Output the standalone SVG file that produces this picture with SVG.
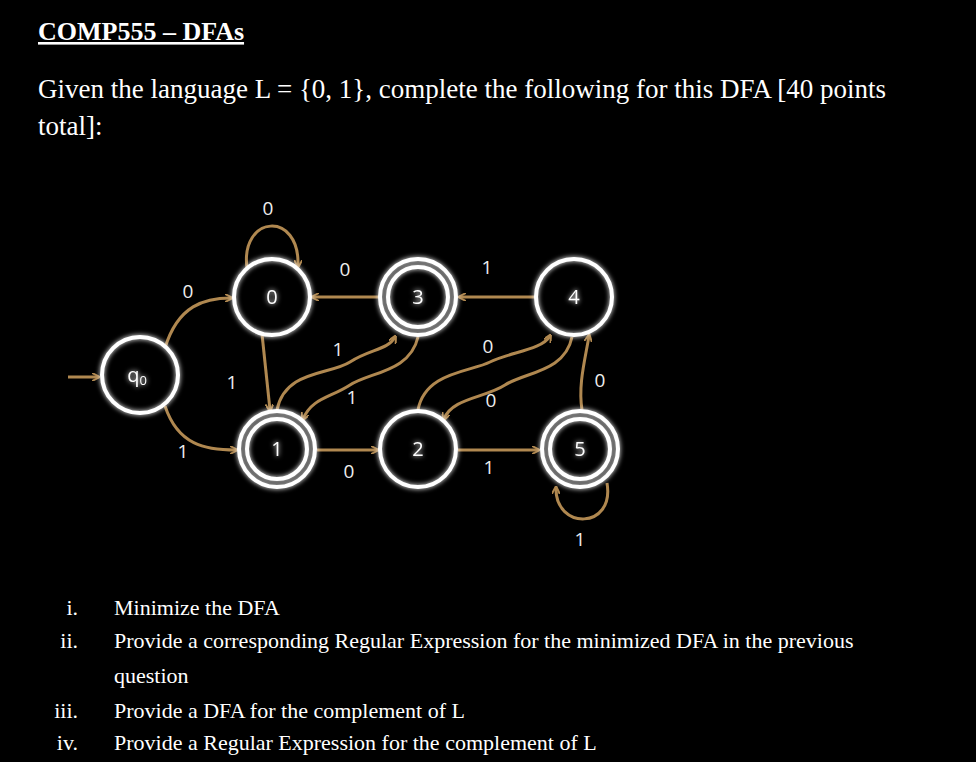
<svg xmlns="http://www.w3.org/2000/svg" width="976" height="762" viewBox="0 0 976 762">
<style>
.t{font-family:"Liberation Serif",serif;fill:#fff}
.n{fill:none;stroke:#fff;stroke-width:4}
.nl{font-family:"Open Sans","DejaVu Sans",sans-serif;font-size:20px;fill:#fff;text-anchor:middle}
.e{fill:none;stroke:#b08850;stroke-width:3;marker-end:url(#a)}
.el{font-family:"Open Sans","DejaVu Sans",sans-serif;font-size:19px;fill:#eee;text-anchor:middle}
</style>
<defs>
<marker id="a" markerWidth="8" markerHeight="8" refX="6" refY="4" orient="auto" markerUnits="userSpaceOnUse"><path d="M0,0 L8,4 L0,8" fill="none" stroke="#b08850" stroke-width="2"/></marker>
<filter id="g" x="-30%" y="-30%" width="160%" height="160%"><feGaussianBlur stdDeviation="2.5" result="b"/><feMerge><feMergeNode in="b"/><feMergeNode in="SourceGraphic"/></feMerge></filter>
</defs>
<rect width="976" height="762" fill="#000"/>
<text class="t" x="38" y="40" font-size="26" font-weight="bold" text-decoration="underline">COMP555 – DFAs</text>
<text class="t" x="38" y="98" font-size="27">Given the language L = {0, 1}, complete the following for this DFA [40 points</text>
<text class="t" x="38" y="135" font-size="27">total]:</text>
<g id="connectors">
<path class="e" d="M68,377 L98,377"/>
<path class="e" d="M165,348 C178,305 205,298 231,298"/>
<path class="e" d="M165,406 C178,445 205,450 236,450"/>
<path class="e" d="M247,268 C240,215 300,210 298,266"/>
<path class="e" d="M380,297 L313,297"/>
<path class="e" d="M535,297 L460,297"/>
<path class="e" d="M262,334 L270,410"/>
<path class="e" d="M277,410 C285,370 330,375 350,362 S388,350 395,337"/>
<path class="e" d="M418,337 C410,372 370,372 350,385 S312,398 303,419"/>
<path class="e" d="M418,410 C425,372 470,372 490,362 S542,350 550,336"/>
<path class="e" d="M572,337 C565,372 525,372 505,385 S452,398 444,419"/>
<path class="e" d="M317,450 L377,450"/>
<path class="e" d="M458,450 L538,450"/>
<path class="e" d="M582,410 C578,385 585,360 589,336"/>
<path class="e" d="M607,483 C615,530 555,530 556,488"/>
<text class="el" x="188" y="298">0</text>
<text class="el" x="183" y="458">1</text>
<text class="el" x="268" y="215">0</text>
<text class="el" x="345" y="276">0</text>
<text class="el" x="487" y="274">1</text>
<text class="el" x="232" y="389">1</text>
<text class="el" x="338" y="356">1</text>
<text class="el" x="352" y="404">1</text>
<text class="el" x="488" y="353">0</text>
<text class="el" x="491" y="407">0</text>
<text class="el" x="349" y="478">0</text>
<text class="el" x="489" y="474">1</text>
<text class="el" x="600" y="387">0</text>
<text class="el" x="580" y="546">1</text>
</g>
<g filter="url(#g)">
<g id="q0"><circle class="n" cx="140" cy="375" r="38"/><text class="nl" x="137" y="382">q<tspan font-size="13" dy="3">0</tspan></text></g>
<g id="s0"><circle class="n" cx="272" cy="297" r="38"/><text class="nl" x="272" y="304">0</text></g>
<g id="s3"><circle class="n" cx="418" cy="297" r="38"/><circle class="n" cx="418" cy="297" r="30" stroke-width="3"/><text class="nl" x="418" y="304">3</text></g>
<g id="s4"><circle class="n" cx="574" cy="297" r="38"/><text class="nl" x="574" y="304">4</text></g>
<g id="s1"><circle class="n" cx="277" cy="449" r="38"/><circle class="n" cx="277" cy="449" r="30" stroke-width="3"/><text class="nl" x="277" y="456">1</text></g>
<g id="s2"><circle class="n" cx="418" cy="449" r="38"/><text class="nl" x="418" y="456">2</text></g>
<g id="s5"><circle class="n" cx="580" cy="449" r="38"/><circle class="n" cx="580" cy="449" r="30" stroke-width="3"/><text class="nl" x="580" y="456">5</text></g>
</g>
<g font-size="22">
<text class="t" x="78" y="615" text-anchor="end">i.</text>
<text class="t" x="78" y="648" text-anchor="end">ii.</text>
<text class="t" x="78" y="718" text-anchor="end">iii.</text>
<text class="t" x="78" y="750" text-anchor="end">iv.</text>
<text class="t" x="114" y="615">Minimize the DFA</text>
<text class="t" x="114" y="648">Provide a corresponding Regular Expression for the minimized DFA in the previous</text>
<text class="t" x="114" y="683">question</text>
<text class="t" x="114" y="718">Provide a DFA for the complement of L</text>
<text class="t" x="114" y="750">Provide a Regular Expression for the complement of L</text>
</g>
</svg>
